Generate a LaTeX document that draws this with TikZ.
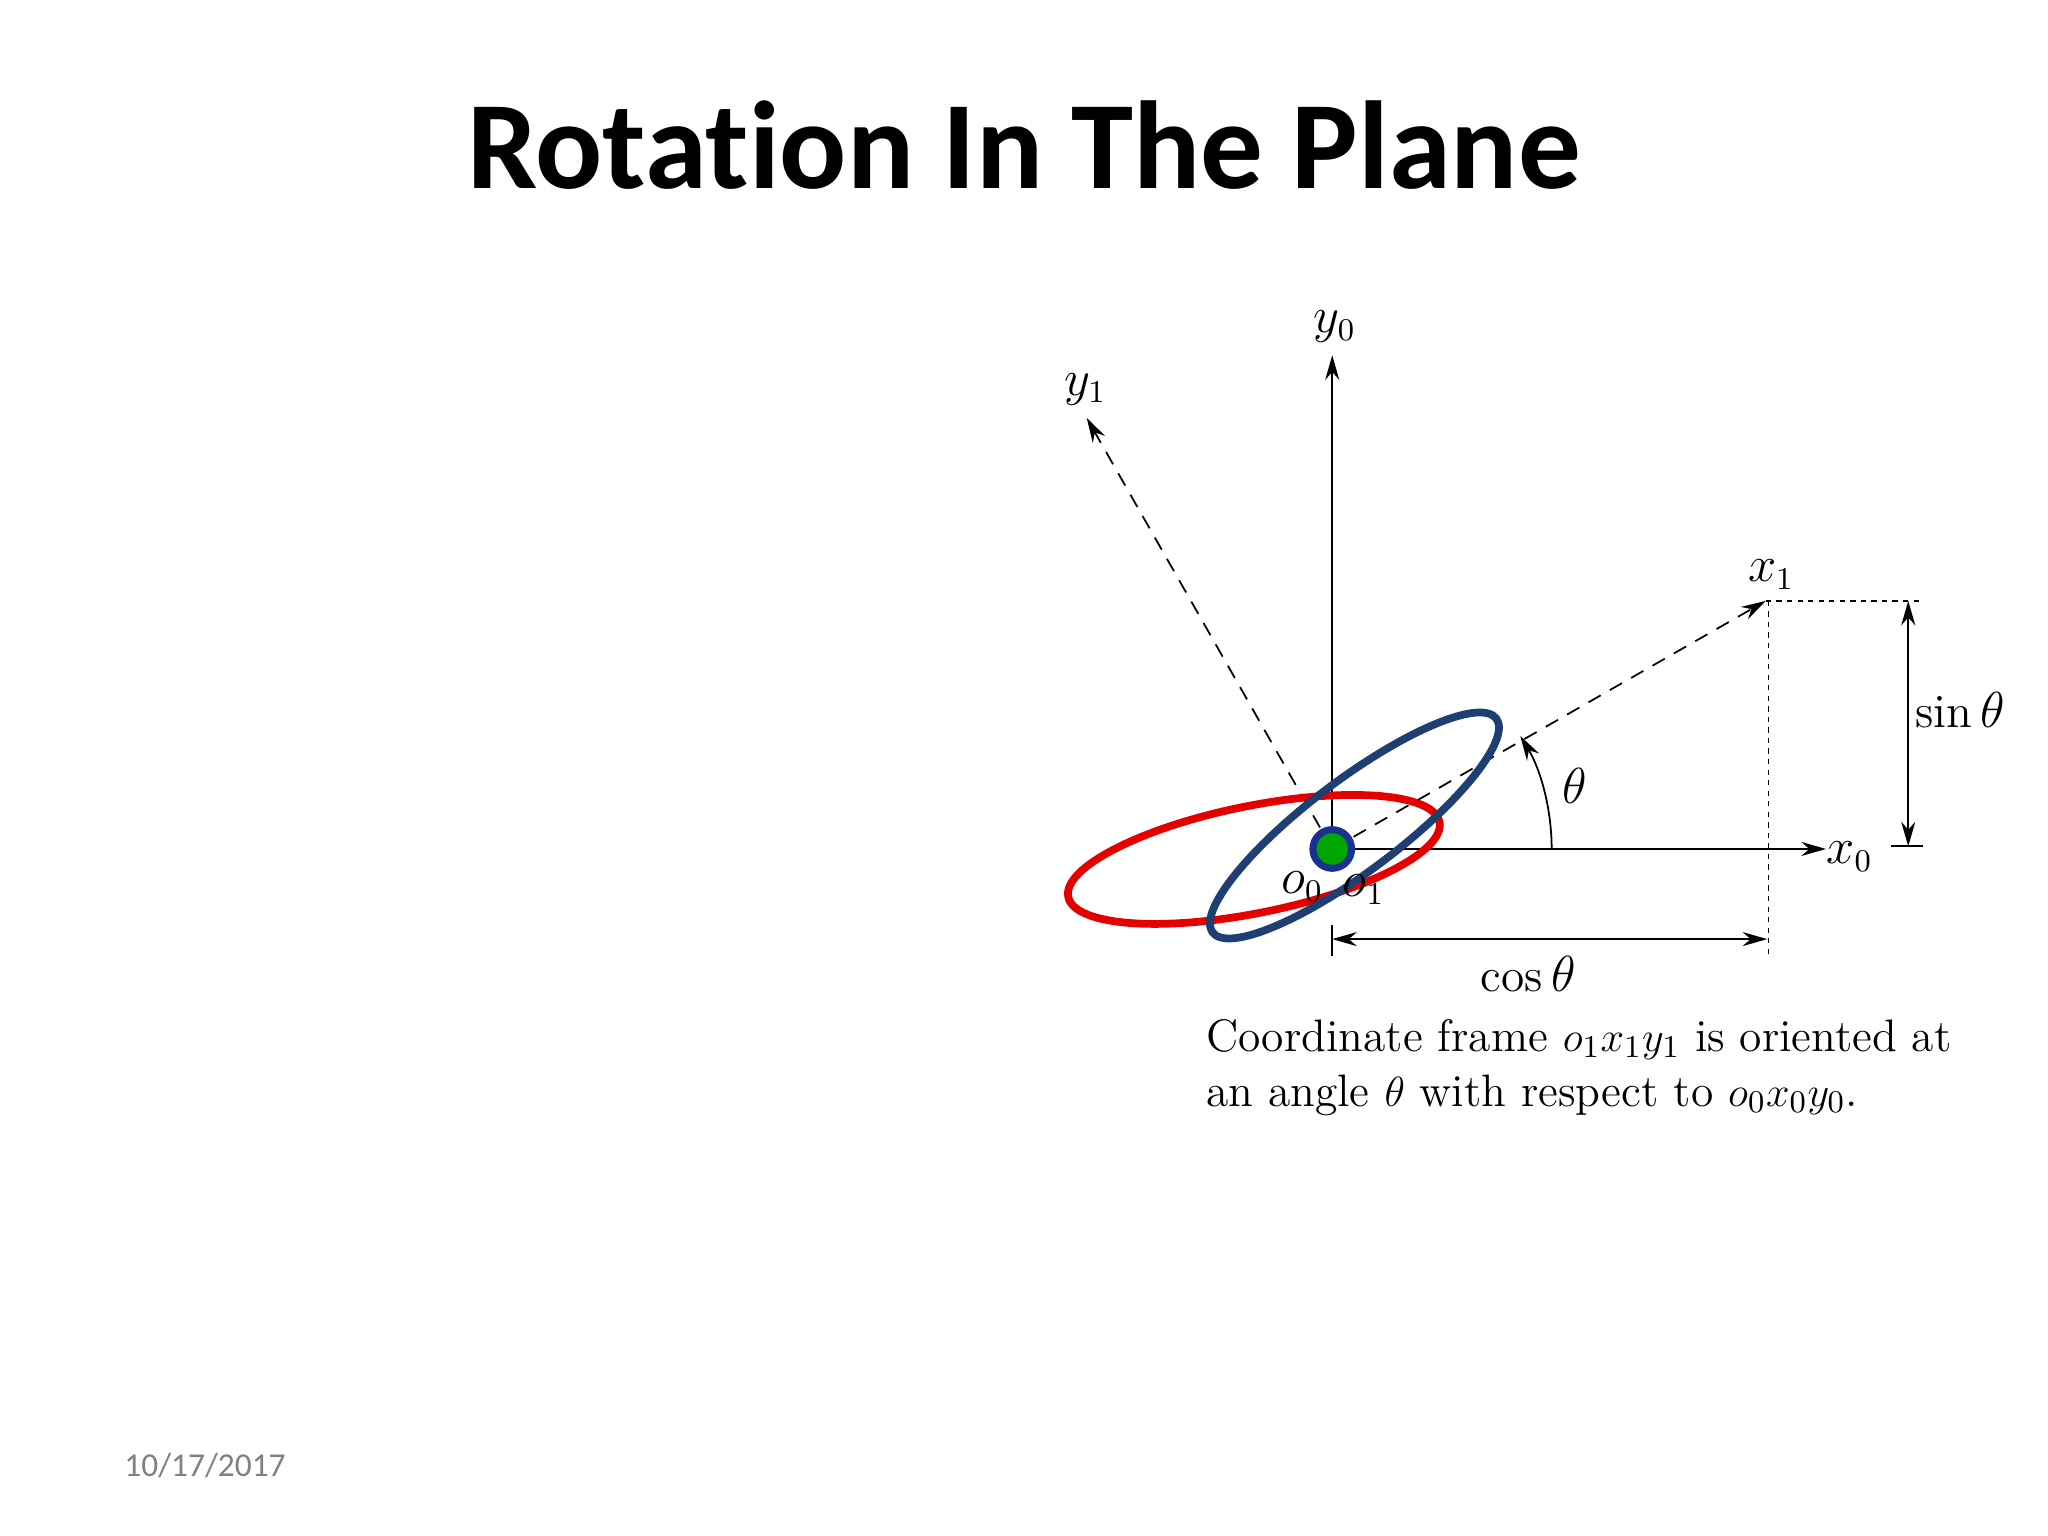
\documentclass[tikz,border=0pt]{standalone}
\usepackage{fontspec}
\newfontfamily\carlito[Ligatures=NoCommon]{Carlito}
\usetikzlibrary{arrows.meta}
\definecolor{navy}{RGB}{31,63,115}
\begin{document}
\begin{tikzpicture}[x=0.01306cm,y=-0.01306cm,
  ax/.style={line width=0.5pt,-{Stealth[length=7pt,width=4pt]}},
  dax/.style={ax,dash pattern=on 4pt off 3pt},
  lbl/.style={font=\fontsize{13.5}{16}\selectfont},
  dotl/.style={line width=0.5pt,dash pattern=on 1.5pt off 1.5pt},
  dim/.style={line width=0.5pt,{Stealth[length=7pt,width=4pt]}-{Stealth[length=7pt,width=4pt]}}]
\useasboundingbox (0,0) rectangle (1568,1176);
\node[font=\carlito\bfseries\fontsize{35.6}{40}\selectfont] (title) at (784,111) {Rotation In The Plane};
\node[font=\carlito\fontsize{9.5}{11}\selectfont,text=gray] (date) at (157,1122) {10/17/2017};
\coordinate (o) at (1020,650);
\coordinate (y0t) at (1020,272);
\coordinate (x0t) at (1398,650);
\coordinate (y1t) at (832,320);
\coordinate (x1t) at (1352,460);
\draw[ax] (o) -- (y0t);
\draw[ax] (o) -- (x0t);
\draw[dax] (o) -- (y1t);
\draw[dax] (o) -- (x1t);
\node[lbl] (ly0) at (1022,250) {$y_0$};
\node[lbl] (lx0) at (1416,656) {$x_0$};
\node[lbl] (ly1) at (831,298) {$y_1$};
\node[lbl] (lx1) at (1356,440) {$x_1$};
\coordinate (c1) at (1354,460);
\coordinate (c2) at (1472,460);
\coordinate (c3) at (1354,732);
\draw[dotl] (x1t) -- (c2);
\draw[dotl] (c1) -- (c3);
\coordinate (s1) at (1461,460);
\coordinate (s2) at (1461,648);
\draw[dim] (s1) -- (s2);
\coordinate (t1) at (1448,648); \coordinate (t2) at (1472,648);
\draw[line width=0.5pt] (t1) -- (t2);
\node[lbl] (lsin) at (1501,544) {$\sin\theta$};
\coordinate (k1) at (1020,708); \coordinate (k2) at (1020,732);
\draw[line width=0.5pt] (k1) -- (k2);
\coordinate (d1) at (1020,719); \coordinate (d2) at (1353,719);
\draw[dim] (d1) -- (d2);
\node[lbl] (lcos) at (1170,746) {$\cos\theta$};
\draw[ax] (1188,650) arc[start angle=0,end angle=-31,radius=168];
\node[lbl] (lth) at (1206,602) {$\theta$};
\draw[line width=2.2pt,draw=red!90!black] (960,658) ellipse[x radius=145,y radius=41,rotate=11.4];
\draw[line width=2.2pt,draw=navy] (1037,632) ellipse[x radius=136,y radius=35,rotate=37];
\node[circle,fill=green!65!black,draw=navy!80!blue,line width=2pt,minimum size=11pt,inner sep=0pt] (dot) at (o) {};
\node[lbl] (lo0) at (997,679) {$o_0$};
\node[lbl] (lo1) at (1044,681) {$o_1$};
\node[align=left,anchor=north west,font=\fontsize{12.95}{15.6}\selectfont,inner sep=0pt] (cap) at (923,780) {Coordinate frame $o_1x_1y_1$ is oriented at\\an angle $\theta$ with respect to $o_0x_0y_0$.};
\end{tikzpicture}
\end{document}
